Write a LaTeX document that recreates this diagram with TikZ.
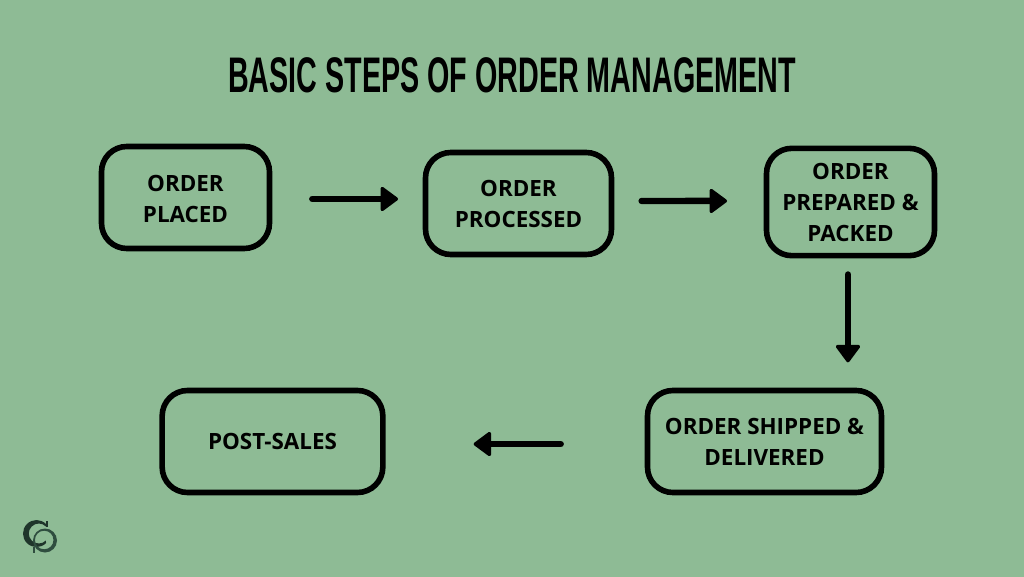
\documentclass[tikz,border=0pt]{standalone}
\usepackage{fontspec}
\usetikzlibrary{arrows.meta}
\setmainfont{Open Sans}
\newfontfamily\titlefont[FakeStretch=0.574]{Liberation Sans Bold}
\definecolor{sagebg}{HTML}{8EBB95}
\definecolor{logodark}{HTML}{1F352B}
\definecolor{logosoft}{HTML}{2F4D3F}
\newcommand{\topgap}[1]{\rule{0pt}{#1}}
\tikzset{
	stagebox/.style={
		draw=black, line width=4.2pt, rounded corners=19pt, align=center,
		font=\fontsize{16.8pt}{23.3pt}\selectfont\bfseries, inner sep=0pt
	},
	flowarrow/.style={
		line width=4.8pt, line cap=round, black,
		-{Triangle[length=14pt,width=20pt,round,line width=2.5pt]}
	},
}
\begin{document}
\begin{tikzpicture}[x=0.75pt,y=-0.75pt]
	\useasboundingbox (0,0) rectangle (1024,577);
	\fill[sagebg] (0,0) rectangle (1024,577);
	% title
	\node (title) at (512,75) {\titlefont\fontsize{37.5pt}{40pt}\selectfont BASIC STEPS OF ORDER MANAGEMENT};
	% boxes
	\node[stagebox, minimum width=126pt, minimum height=76.5pt] (placed) at (185.5,197.5) {\topgap{15pt}ORDER\\PLACED};
	\node[stagebox, minimum width=139.5pt, minimum height=76.5pt] (processed) at (518.5,203.5) {\topgap{13.5pt}ORDER\\PROCESSED};
	\node[stagebox, minimum width=126pt, minimum height=80.5pt] (packed) at (850.5,202) {\topgap{13.5pt}ORDER\\PREPARED \&\\PACKED};
	\node[stagebox, minimum width=175.5pt, minimum height=76.5pt] (shipped) at (764.5,441.5) {ORDER SHIPPED \&\\DELIVERED};
	\node[stagebox, minimum width=165.5pt, minimum height=76.5pt] (postsales) at (272.5,441.5) {POST-SALES};
	% arrows
	\draw[flowarrow, shorten <=30pt, shorten >=18.5pt] ([yshift=-1.1pt]placed.east) -- ([yshift=3.4pt]processed.west);
	\draw[flowarrow, shorten <=20.5pt, shorten >=27.5pt] ([yshift=1.9pt]processed.east) -- ([yshift=0.8pt]packed.west);
	\draw[flowarrow, shorten <=12pt, shorten >=19pt] ([xshift=-1.9pt]packed.south) -- ([xshift=62.6pt]shipped.north);
	\draw[flowarrow, shorten <=63pt, shorten >=66pt] ([yshift=-1.9pt]shipped.west) -- ([yshift=-1.9pt]postsales.east);
	% logo
	\fill[logodark] (46.05,524) arc[start angle=-45,end angle=-315,radius=13.5] -- (45.87,540.57) arc[start angle=-315,end angle=-45,radius=10] -- cycle;
	\fill[logodark] (46,520.5) rectangle (48.4,527);
	\fill[logosoft, even odd rule] (45,540.5) circle (12) (44.2,540) circle (9.3);
	\fill[logosoft] (33,547) rectangle (35,553);
\end{tikzpicture}
\end{document}
